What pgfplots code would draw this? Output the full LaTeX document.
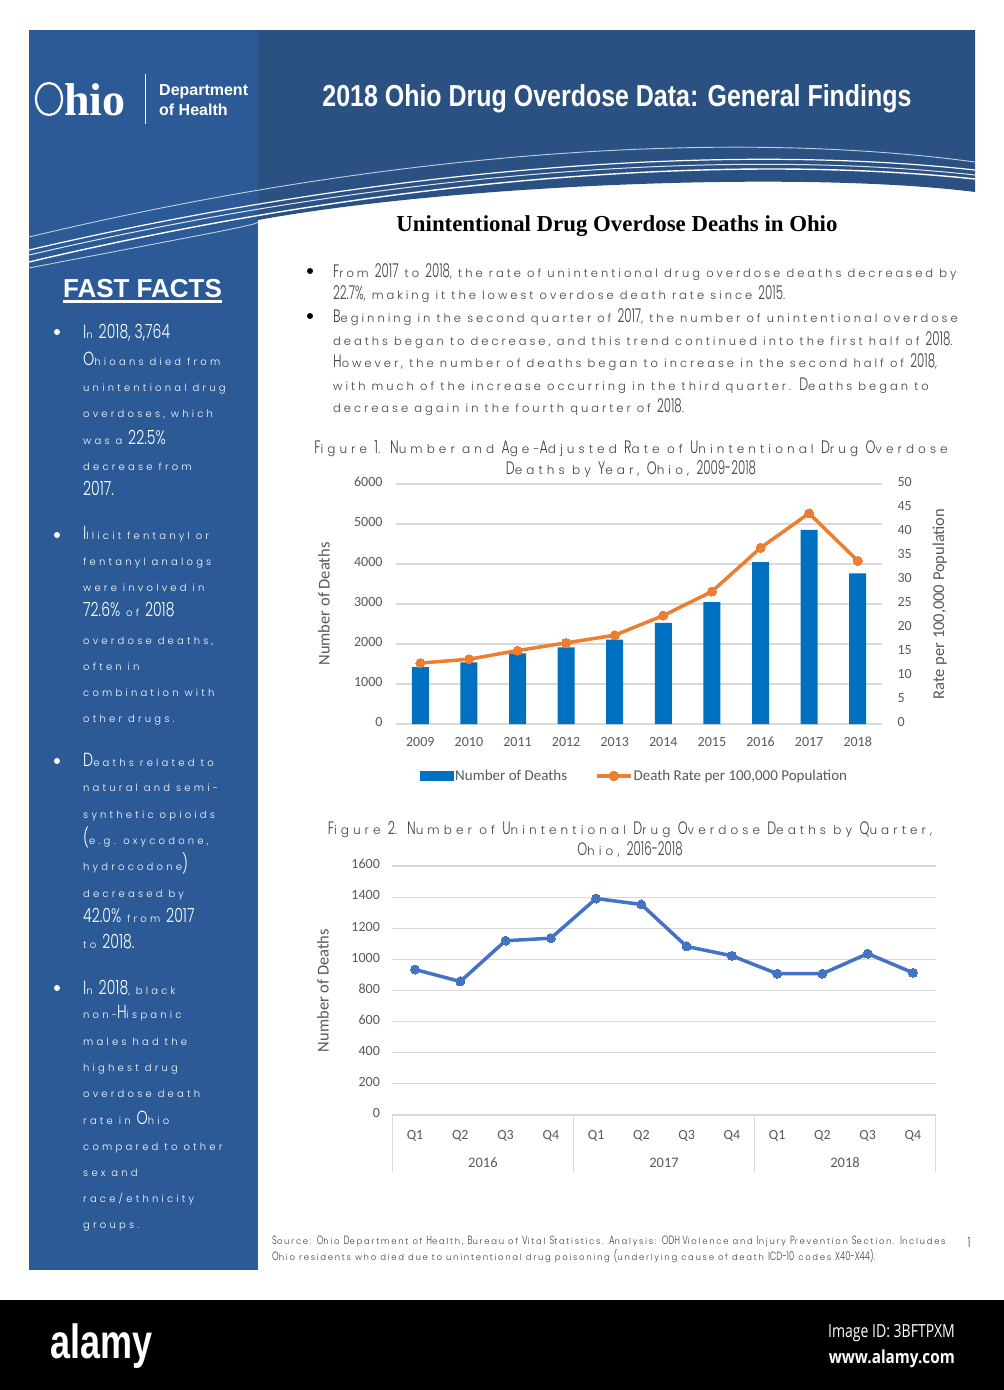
\documentclass[border=0pt]{standalone}
\usepackage{pgfplots}
\pgfplotsset{compat=1.18}
\usepackage{fontspec}
\setmainfont{Liberation Sans}
\newfontfamily\carl{Carlito}
\newfontfamily\tms{Liberation Serif}
\newfontfamily\opens{Open Sans}
\IfFontExistsTF{Poppins Light}{%
  \newfontfamily\bodyf[LetterSpace=26]{Poppins Light}%
  \newfontfamily\titf[LetterSpace=34]{Poppins Light}%
  \newfontfamily\sidef[LetterSpace=32]{Poppins Light}%
  \newfontfamily\srcf[LetterSpace=20]{Poppins Light}%
  \newfontfamily\numf{Poppins Light}%
}{%
  \newfontfamily\bodyf[LetterSpace=26]{Poppins}%
  \newfontfamily\titf[LetterSpace=34]{Poppins}%
  \newfontfamily\sidef[LetterSpace=32]{Poppins}%
  \newfontfamily\srcf[LetterSpace=20]{Poppins}%
  \newfontfamily\numf{Poppins}%
}
\definecolor{gridc}{HTML}{D9D9D9}
\definecolor{labc}{HTML}{595959}
\definecolor{barc}{HTML}{0070C0}
\definecolor{linec}{HTML}{ED7D31}
\definecolor{qc}{HTML}{4472C4}
\definecolor{side}{HTML}{2C5A96}
\definecolor{hdr}{HTML}{2B5183}
\definecolor{bodyc}{HTML}{404040}
% big condensed digits / capitals
\newcommand\N[1]{\scalebox{0.62}[1]{\numf\fontsize{19}{19}\selectfont #1}}
\newcommand\C[1]{\scalebox{0.7}[1]{\numf\fontsize{18}{18}\selectfont #1}}
\newcommand\Ns[1]{\scalebox{0.72}[1]{\numf\fontsize{19.5}{19.5}\selectfont #1}}
\newcommand\Cs[1]{\scalebox{0.75}[1]{\numf\fontsize{19}{19}\selectfont #1}}
\newcommand\Nf[1]{\scalebox{0.7}[1]{\numf\fontsize{12}{12}\selectfont #1}}

\pgfplotstableread{
x year deaths rate
0 2009 1423 12.7
1 2010 1544 13.5
2 2011 1765 15.3
3 2012 1914 16.9
4 2013 2110 18.5
5 2014 2531 22.6
6 2015 3050 27.6
7 2016 4050 36.7
8 2017 4854 43.9
9 2018 3764 34.0
}\yeartab
\pgfplotstableread{
x deaths
0 935
1 858
2 1120
3 1136
4 1391
5 1353
6 1083
7 1023
8 908
9 908
10 1037
11 914
}\qtab

\pgfplotsset{
  /pgf/number format/assume math mode=true,
  /pgf/number format/1000 sep={},
  typeset ticklabels with strut,
}

\begin{document}
\begin{tikzpicture}
\begin{scope}[x=1pt,y=-1pt]
\path[use as bounding box] (0,0) rectangle (1004,1390);
\fill[white] (0,0) rectangle (1004,1390);
% sidebar and header
\fill[side] (29,30) rectangle (258,1270);
\fill[hdr] (258,30) -- (975,30) -- (975,192) .. controls (800,170) and (450,185) .. (258,220) -- cycle;
% swoosh lines
\draw[white!70!side, line width=0.9pt] (29,237) .. controls (350,160) and (700,125) .. (975,162);
\draw[white, line width=1.2pt] (29,250) .. controls (350,175) and (700,140) .. (975,170);
\draw[white!85!side, line width=1pt] (29,255) .. controls (350,180) and (700,145) .. (975,175);
\draw[white, line width=1.4pt] (29,262) .. controls (350,186) and (700,150) .. (975,179);
\draw[white!70!side, line width=0.9pt] (29,268) .. controls (200,235) and (258,225) .. (258,222);
% logo
\draw[white, line width=2.2pt] (49,99) ellipse (13 and 16);
\node[anchor=base west, inner sep=0, text=white, font=\tms\bfseries\fontsize{46}{46}\selectfont] at (64,115) {hio};
\draw[white, line width=0.8pt] (145,74) -- (145,124);
\node[anchor=base west, inner sep=0, text=white, font=\bfseries\fontsize{16}{16}\selectfont] at (159,95) {Department};
\node[anchor=base west, inner sep=0, text=white, font=\bfseries\fontsize{16}{16}\selectfont] at (159,115) {of Health};
% header title
\node[anchor=base, inner sep=0, text=white] at (617,106) {\resizebox{589pt}{22pt}{\bfseries 2018 Ohio Drug Overdose Data: General Findings}};
% section title
\node[anchor=base, inner sep=0, text=black] at (617,231) {\resizebox{441pt}{!}{\tms\bfseries\fontsize{20}{20}\selectfont Unintentional Drug Overdose Deaths in Ohio}};
% body bullets
\fill[black] (310,271) circle (3);
\fill[black] (310,316) circle (3);
\begin{scope}[every node/.style={anchor=base west, inner sep=0, text=bodyc, font=\bodyf\fontsize{11.5}{12}\selectfont}]
\node at (333,277) {\C{F}rom \N{2017} to \N{2018}, the rate of unintentional drug overdose deaths decreased by};
\node at (333,299) {\N{22.7\%}, making it the lowest overdose death rate since \N{2015}.};
\node at (333,322) {\C{B}eginning in the second quarter of \N{2017}, the number of unintentional overdose};
\node at (333,345) {deaths began to decrease, and this trend continued into the first half of \N{2018}.};
\node at (333,367) {\C{H}owever, the number of deaths began to increase in the second half of \N{2018},};
\node at (333,390) {with much of the increase occurring in the third quarter. \C{D}eaths began to};
\node at (333,412) {decrease again in the fourth quarter of \N{2018}.};
\end{scope}
% figure titles
\begin{scope}[every node/.style={anchor=base, inner sep=0, text=bodyc, font=\titf\fontsize{12}{12}\selectfont}]
\node at (631,453) {\C{F}igure \C{1}. \C{N}umber and \C{A}ge-\C{A}djusted \C{R}ate of \C{U}nintentional \C{D}rug \C{O}verdose};
\node at (631,474) {\C{D}eaths by \C{Y}ear, \C{O}hio, \N{2009-2018}};
\node at (630,834) {\C{F}igure \C{2}. \C{N}umber of \C{U}nintentional \C{D}rug \C{O}verdose \C{D}eaths by \C{Q}uarter,};
\node at (630,855) {\C{O}hio, \N{2016-2018}};
\end{scope}
% sidebar
\node[anchor=base, inner sep=0, text=white, font=\bfseries\fontsize{26}{26}\selectfont] at (142.5,297) {FAST FACTS};
\fill[white] (63,300) rectangle (222,302.5);
\foreach \yy in {332,535,761,988} \fill[white] (57,\yy) circle (3);
\begin{scope}[every node/.style={anchor=base west, inner sep=0, text=white, font=\sidef\fontsize{10}{10}\selectfont}]
\node at (83,338) {\Cs{I}n \Ns{2018, 3,764}};
\node at (83,365) {\Cs{O}hioans died from};
\node at (83,391) {unintentional drug};
\node at (83,417) {overdoses, which};
\node at (83,444) {was a \Ns{22.5\%}};
\node at (83,470) {decrease from};
\node at (83,495) {\Ns{2017.}};
\node at (83,539) {\Cs{I}llicit fentanyl or};
\node at (83,565) {fentanyl analogs};
\node at (83,591) {were involved in};
\node at (83,616) {\Ns{72.6\%} of \Ns{2018}};
\node at (83,644) {overdose deaths,};
\node at (83,670) {often in};
\node at (83,696) {combination with};
\node at (83,722) {other drugs.};
\node at (83,766) {\Cs{D}eaths related to};
\node at (83,791) {natural and semi-};
\node at (83,818) {synthetic opioids};
\node at (83,844) {\Cs{(}e.g. oxycodone,};
\node at (83,870) {hydrocodone\Cs{)}};
\node at (83,897) {decreased by};
\node at (83,922) {\Ns{42.0\%} from \Ns{2017}};
\node at (83,948) {to \Ns{2018.}};
\node at (83,994) {\Cs{I}n \Ns{2018}, black};
\node at (83,1018) {non-\Cs{H}ispanic};
\node at (83,1045) {males had the};
\node at (83,1071) {highest drug};
\node at (83,1097) {overdose death};
\node at (83,1124) {rate in \Cs{O}hio};
\node at (83,1150) {compared to other};
\node at (83,1176) {sex and};
\node at (83,1202) {race/ethnicity};
\node at (83,1228) {groups.};
\end{scope}
% source
\begin{scope}[every node/.style={anchor=base west, inner sep=0, text=bodyc, font=\srcf\fontsize{8.5}{9}\selectfont}]
\node at (272,1244) {\Nf{S}ource: \Nf{O}hio \Nf{D}epartment of \Nf{H}ealth, \Nf{B}ureau of \Nf{V}ital \Nf{S}tatistics. \Nf{A}nalysis: \Nf{ODH V}iolence and \Nf{I}njury \Nf{P}revention \Nf{S}ection. \Nf{I}ncludes};
\node at (272,1260) {\Nf{O}hio residents who died due to unintentional drug poisoning \Nf{(}underlying cause of death \Nf{ICD-10} codes \Nf{X40-X44)}.};
\end{scope}
\node[anchor=base, inner sep=0, text=bodyc, font=\numf\fontsize{14}{14}\selectfont] at (969,1247) {\scalebox{0.7}[1]{1}};
% bottom bar
\fill[black] (0,1300) rectangle (1004,1390);
\node[anchor=base west, inner sep=0, text=white] at (50,1358) {\scalebox{0.75}[1]{\bfseries\fontsize{48}{48}\selectfont alamy}};
\node[anchor=base east, inner sep=0, text=white] at (955,1337) {\scalebox{0.78}[1]{\opens\fontsize{18}{18}\selectfont Image ID: 3BFTPXM}};
\node[anchor=base east, inner sep=0, text=white] at (955,1363) {\scalebox{0.85}[1]{\opens\bfseries\fontsize{18}{18}\selectfont www.alamy.com}};
\end{scope}

% ---------------- Figure 1 ----------------
\begin{axis}[
  scale only axis, width=486pt, height=240pt,
  at={(396pt,-724pt)}, anchor=south west,
  xmin=-0.5, xmax=9.5, ymin=0, ymax=6000,
  xtick={0,...,9}, xticklabels={2009,2010,2011,2012,2013,2014,2015,2016,2017,2018},
  ytick={0,1000,...,6000},
  axis line style={draw=none}, major tick length=0pt,
  ymajorgrids, grid style={draw=gridc, line width=1.1pt},
  tick label style={font=\carl\fontsize{14}{14}\selectfont, text=labc},
  yticklabel style={xshift=-10pt}, xticklabel style={yshift=-9pt},
  ylabel={Number of Deaths},
  every axis y label/.style={at={(axis description cs:-0.148,0.5)}, rotate=90, anchor=center, font=\carl\fontsize{16.5}{16.5}\selectfont, text=labc},
  legend style={draw=none, fill=none, at={(axis description cs:0.49,-0.2167)}, anchor=center,
    legend columns=2, font=\carl\fontsize{15}{15}\selectfont, text=labc,
    nodes={inner sep=1pt},
    /tikz/every even column/.append style={column sep=27pt}},
  legend cell align=left,
]
\addplot[ybar, bar width=17pt, fill=barc, draw=none,
  legend image code/.code={\fill[barc] (0pt,-5pt) rectangle (34pt,5pt);}]
  table[x=x, y=deaths] {\yeartab};
\addlegendentry{Number of Deaths}
\addlegendimage{legend image code/.code={\draw[linec, line width=3.5pt] (0pt,0pt) -- (34pt,0pt); \fill[linec] (17pt,0pt) circle (5pt);}}
\addlegendentry{Death Rate per 100,000 Population}
\end{axis}
\begin{axis}[
  scale only axis, width=486pt, height=240pt,
  at={(396pt,-724pt)}, anchor=south west,
  xmin=-0.5, xmax=9.5, ymin=0, ymax=50,
  ytick={0,5,...,50},
  axis y line*=right, axis x line=none,
  axis line style={draw=none}, major tick length=0pt,
  tick label style={font=\carl\fontsize{14}{14}\selectfont, text=labc},
  yticklabel style={xshift=12pt, anchor=west},
  ylabel={Rate per 100,000 Population},
  every axis y label/.style={at={(axis description cs:1.119,0.5)}, rotate=90, anchor=center, font=\carl\fontsize{16.5}{16.5}\selectfont, text=labc},
]
\addplot[linec, line width=3.5pt, mark=*, mark size=4.5pt, mark options={fill=linec, draw=linec, line width=0pt}]
  table[x=x, y=rate] {\yeartab};
\end{axis}

% ---------------- Figure 2 ----------------
\begin{axis}[
  scale only axis, width=543.2pt, height=249pt,
  at={(392.4pt,-1115pt)}, anchor=south west,
  xmin=-0.5, xmax=11.5, ymin=0, ymax=1600,
  xtick={0,...,11}, xticklabels={Q1,Q2,Q3,Q4,Q1,Q2,Q3,Q4,Q1,Q2,Q3,Q4},
  ytick={0,200,...,1600},
  axis line style={draw=none}, major tick length=0pt,
  tick pos=left,
  extra x ticks={-0.5,3.5,7.5,11.5}, extra x tick labels={},
  extra x tick style={major tick length=57pt, tick align=outside, tick style={draw=gridc, line width=1.1pt}},
  ymajorgrids, grid style={draw=gridc, line width=1.1pt},
  tick label style={font=\carl\fontsize{14}{14}\selectfont, text=labc},
  yticklabel style={xshift=-9pt}, xticklabel style={yshift=-11pt},
  ylabel={Number of Deaths},
  every axis y label/.style={at={(axis description cs:-0.128,0.5)}, rotate=90, anchor=center, font=\carl\fontsize{16.5}{16.5}\selectfont, text=labc},
  clip=false,
]
\addplot[qc, line width=3.5pt, mark=*, mark size=4.5pt, mark options={fill=qc, draw=qc, line width=0pt}]
  table[x=x, y=deaths] {\qtab};
\node[font=\carl\fontsize{14.5}{14.5}\selectfont, text=labc] at (axis cs:1.5,0) [yshift=-48pt] {2016};
\node[font=\carl\fontsize{14.5}{14.5}\selectfont, text=labc] at (axis cs:5.5,0) [yshift=-48pt] {2017};
\node[font=\carl\fontsize{14.5}{14.5}\selectfont, text=labc] at (axis cs:9.5,0) [yshift=-48pt] {2018};
\end{axis}
\end{tikzpicture}
\end{document}
